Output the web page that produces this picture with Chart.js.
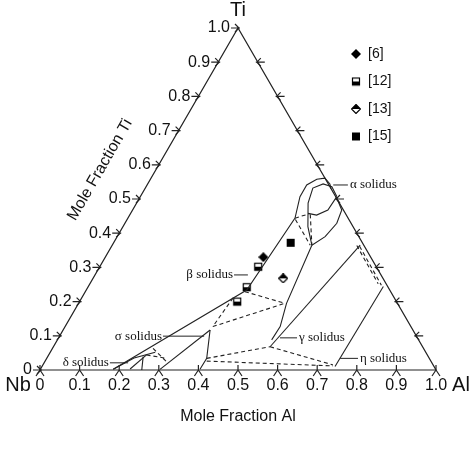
<!DOCTYPE html>
<html><head><meta charset="utf-8">
<script src="https://cdn.jsdelivr.net/npm/chart.js@4"></script>
<style>html,body{margin:0;padding:0;background:#fff}#w{width:474px;height:453px}</style>
</head><body><div id="w"><canvas id="c"></canvas></div>
<script>
// ternary data as [Al, Ti] mole fractions (Nb = 1 - Al - Ti)
const tickValues = [0,0.1,0.2,0.3,0.4,0.5,0.6,0.7,0.8,0.9,1.0];
const tickLabels = ['0','0.1','0.2','0.3','0.4','0.5','0.6','0.7','0.8','0.9','1.0'];
const solidLines = [
  [[.184,.002],[.405,.234],[.422,.444],[.403,.507],[.403,.541],[.420,.558],[.439,.561],[.460,.544],[.47,.53]],
  [[.504,.365],[.467,.419],[.433,.488],[.423,.532],[.443,.544],[.469,.536],[.496,.507]],
  [[.496,.507],[.493,.468],[.472,.453],[.448,.458]],
  [[.504,.365],[.525,.390],[.535,.429],[.528,.468],[.503,.497]],
  [[.504,.365],[.525,.195],[.543,.127],[.541,.088]],
  [[.626,.365],[.547,.068]],
  [[.745,.244],[.740,.010]],
  [[.371,.117],[.404,.034],[.403,.002]],
  [[.371,.117],[.302,.002]],
  [[.184,.002],[.22,.035],[.265,.052]],
  [[.226,.003],[.247,.044]],
  [[.257,.000],[.241,.039]]
];
const dashedLines = [
  [[.422,.444],[.452,.457]],
  [[.425,.440],[.500,.365]],
  [[.455,.455],[.504,.365]],
  [[.626,.362],[.738,.248]],
  [[.618,.364],[.728,.252]],
  [[.403,.229],[.521,.195]],
  [[.382,.211],[.373,.127]],
  [[.373,.127],[.521,.195]],
  [[.404,.034],[.547,.068]],
  [[.547,.068],[.732,.015]],
  [[.408,.026],[.734,.012]],
  [[.254,.063],[.308,.024]],
  [[.247,.044],[.298,.035]]
];
const ref6 = [[.399,.330]];
const ref12 = [[.400,.302],[.401,.242],[.398,.200]];
const ref13 = [[.480,.268]];
const ref15 = [[.447,.372]];
const legendNames = ['[6]','[12]','[13]','[15]'];
const phaseLabels = [
  ['α solidus',[.470,.541],[.507,.541],'right'],
  ['β solidus',[.386,.278],[.351,.278],'left'],
  ['σ solidus',[.365,.099],[.261,.099],'left'],
  ['δ solidus',[.212,.021],[.166,.021],'left'],
  ['γ solidus',[.559,.094],[.602,.094],'right'],
  ['η solidus',[.741,.034],[.786,.034],'right']
];

const toXY = p => ({x: p[0] + p[1]/2, y: p[1]});

function mk(draw){const c=document.createElement('canvas');c.width=10;c.height=10;const g=c.getContext('2d');draw(g);return c;}
const halfSq = mk(g=>{g.fillStyle='#fff';g.fillRect(1,1,8,8);g.fillStyle='#000';g.fillRect(1,5,8,4);g.strokeStyle='#000';g.lineWidth=1.2;g.strokeRect(1.5,1.5,7,7);});
const halfDia = mk(g=>{g.beginPath();g.moveTo(5,0.5);g.lineTo(9.5,5);g.lineTo(5,9.5);g.lineTo(0.5,5);g.closePath();g.fillStyle='#fff';g.fill();
  g.beginPath();g.moveTo(0.5,5);g.lineTo(9.5,5);g.lineTo(5,0.5);g.closePath();g.fillStyle='#000';g.fill();
  g.beginPath();g.moveTo(5,0.5);g.lineTo(9.5,5);g.lineTo(5,9.5);g.lineTo(0.5,5);g.closePath();g.strokeStyle='#000';g.lineWidth=1.2;g.stroke();});
const fullSq = mk(g=>{g.fillStyle='#000';g.fillRect(1,1,8,8);});
const fullDia = mk(g=>{g.beginPath();g.moveTo(5,0);g.lineTo(10,5);g.lineTo(5,10);g.lineTo(0,5);g.closePath();g.fillStyle='#000';g.fill();});

const datasets = [];
solidLines.forEach(l=>datasets.push({data:l.map(toXY),showLine:true,borderColor:'#222',borderWidth:1.1,pointRadius:0,fill:false}));
dashedLines.forEach(l=>datasets.push({data:l.map(toXY),showLine:true,borderColor:'#222',borderWidth:1.1,borderDash:[4,3],pointRadius:0,fill:false}));
[[ref6,fullDia],[ref12,halfSq],[ref13,halfDia],[ref15,fullSq]].forEach(([d,img])=>datasets.push({data:d.map(toXY),showLine:false,pointStyle:img,pointRadius:5}));

const F='"Liberation Sans", Arial, sans-serif';
const deco = {
  id:'deco',
  beforeDatasetsDraw(chart){
    const {ctx,scales:{x,y}}=chart;
    const P=(al,ti)=>[x.getPixelForValue(al+ti/2), y.getPixelForValue(ti)];
    ctx.save();
    ctx.strokeStyle='#222';ctx.lineWidth=1.2;
    const A=P(0,0),B=P(1,0),C=P(0,1);
    ctx.beginPath();ctx.moveTo(...A);ctx.lineTo(...B);ctx.lineTo(...C);ctx.closePath();ctx.stroke();
    ctx.fillStyle='#111';ctx.font='16px '+F;
    tickValues.forEach((v,i)=>{
      let [bx,by]=P(v,0);
      ctx.beginPath();ctx.moveTo(bx-4,by+6);ctx.lineTo(bx,by);ctx.lineTo(bx+4,by+6);ctx.moveTo(bx,by);ctx.lineTo(bx,by-5);ctx.stroke();
      ctx.textAlign='center';ctx.textBaseline='middle';ctx.fillText(tickLabels[i],bx,by+16);
      let [lx,ly]=P(0,v);
      ctx.beginPath();ctx.moveTo(lx-7,ly);ctx.lineTo(lx+2,ly);ctx.moveTo(lx-3,ly-4);ctx.lineTo(lx+1,ly);ctx.lineTo(lx-3,ly+4);ctx.stroke();
      ctx.textAlign='right';ctx.fillText(tickLabels[i],lx-8,ly);
      if(v>0&&v<1){let [rx,ry]=P(1-v,v);
        ctx.beginPath();ctx.moveTo(rx-2,ry);ctx.lineTo(rx+7,ry);ctx.moveTo(rx+3,ry-4);ctx.lineTo(rx-1,ry);ctx.lineTo(rx+3,ry+4);ctx.stroke();}
    });
    ctx.font='20px '+F;ctx.textAlign='center';
    ctx.fillText('Ti',C[0],C[1]-18);
    ctx.fillText('Nb',A[0]-22,A[1]+15);
    ctx.fillText('Al',B[0]+25,B[1]+15);
    ctx.font='16px '+F;
    ctx.fillText('Mole Fraction Al',(A[0]+B[0])/2,A[1]+47);
    ctx.save();ctx.translate(100,170);ctx.rotate(-Math.PI/3);ctx.fillText('Mole Fraction Ti',0,0);ctx.restore();
    ctx.font='13px "Liberation Serif", "Times New Roman", serif';ctx.lineWidth=1;
    phaseLabels.forEach(([t,s,e,side])=>{
      const p1=P(...s),p2=P(...e);
      ctx.beginPath();ctx.moveTo(...p1);ctx.lineTo(...p2);ctx.stroke();
      ctx.textAlign=side==='right'?'left':'right';
      ctx.fillText(t,p2[0]+(side==='right'?2:-1),p2[1]);
    });
    const imgs=[fullDia,halfSq,halfDia,fullSq];
    ctx.font='14px '+F;ctx.textAlign='left';
    legendNames.forEach((n,i)=>{const yy=54+i*27.5;ctx.drawImage(imgs[i],351,yy-5);ctx.fillText(n,368,yy);});
    ctx.restore();
  }
};

new Chart(document.getElementById('c'),{
  type:'scatter',
  data:{datasets},
  options:{
    responsive:true,maintainAspectRatio:false,animation:false,
    layout:{padding:{left:40,right:38,top:28,bottom:83}},
    plugins:{legend:{display:false},tooltip:{enabled:false}},
    scales:{x:{display:false,min:0,max:1},y:{display:false,min:0,max:1}}
  },
  plugins:[deco]
});
</script></body></html>
